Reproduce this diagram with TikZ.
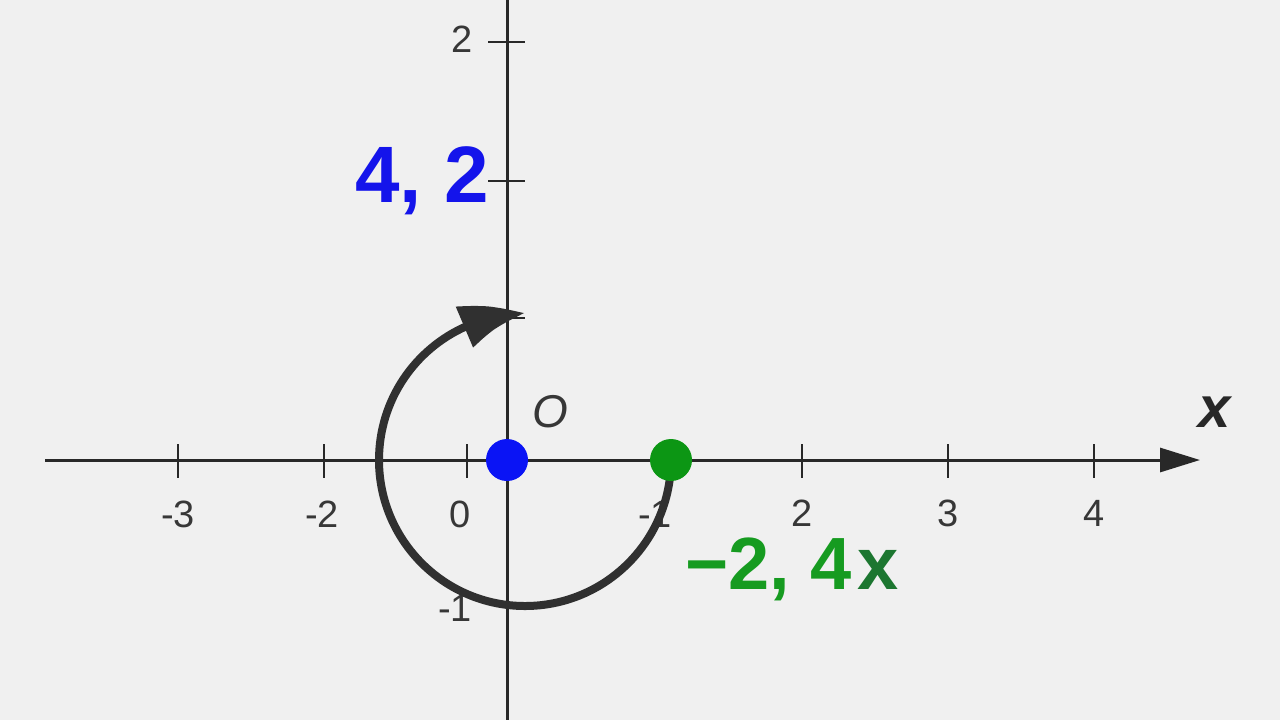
\documentclass[tikz,border=0pt]{standalone}
\usepackage{fontspec}
\setmainfont{Liberation Sans}
\usetikzlibrary{arrows.meta,bending}
\definecolor{bg}{RGB}{240,240,240}
\definecolor{axisc}{RGB}{40,40,40}
\definecolor{curvec}{RGB}{48,48,48}
\definecolor{dotblue}{RGB}{10,20,245}
\definecolor{txtblue}{RGB}{20,20,235}
\definecolor{dotgreen}{RGB}{12,150,20}
\definecolor{txtgreen}{RGB}{22,155,32}
\definecolor{xgreen}{RGB}{28,118,48}
\definecolor{labc}{RGB}{55,55,55}
\begin{document}
\begin{tikzpicture}[x=0.5pt,y=-0.5pt,
  axisline/.style={draw=axisc,line width=1.5pt},
  tickmark/.style={draw=axisc,line width=1.4pt},
  ticklab/.style={text=labc,font=\fontsize{19}{19}\selectfont,inner sep=0pt,anchor=base},
  dot/.style={circle,inner sep=0pt,minimum size=21pt},
  turn/.style={draw=curvec,line width=4pt,-{Triangle[length=32pt,width=21pt,bend]}},
  biglab/.style={inner sep=0pt,anchor=base,text height=0.72em,text depth=0.1em},
]
\fill[bg] (0,0) rectangle (1280,720);
\useasboundingbox (0,0) rectangle (1280,720);
% axes
\coordinate (xs) at (45,460);
\coordinate (xe) at (1200,460);
\coordinate (ys) at (507,0);
\coordinate (ye) at (507,720);
\draw[axisline,-{Triangle[length=20pt,width=12pt]}] (xs) -- (xe);
\draw[axisline] (ys) -- (ye);
% ticks
\foreach \x in {178,324,467,670,802,948,1094} \draw[tickmark] (\x,444) -- (\x,478);
\foreach \y in {42,181,318} \draw[tickmark] (488,\y) -- (525,\y);
% tick labels
\node[ticklab] (lm3) at (178,527) {-3};
\node[ticklab] (lm2) at (322,527) {-2};
\node[ticklab] (l0) at (460,527) {0};
\node[ticklab] (lm1) at (655,527) {-1};
\node[ticklab] (l2) at (802,526) {2};
\node[ticklab] (l3) at (948,526) {3};
\node[ticklab] (l4) at (1094,526) {4};
\node[ticklab] (ly2) at (462,52) {2};
\node[ticklab] (lym1) at (455,621) {-1};
% curve
\coordinate (gc) at (671,460);
\coordinate (oc) at (507,460);
\draw[turn] (gc) arc[start angle=0,end angle=270,radius=146];
% dots
\node[dot,fill=dotblue] (o) at (oc) {};
\node[dot,fill=dotgreen] (g) at (gc) {};
% labels
\node[biglab,text=txtblue,font=\fontsize{40}{40}\selectfont\bfseries] (lb) at (422,202) {4, 2};
\node[biglab,text=txtgreen,font=\fontsize{37}{37}\selectfont\bfseries] (lg) at (792,589) {−2, 4\hspace{0.08em}\textcolor{xgreen}{x}};
\node[biglab,text=labc,font=\fontsize{23}{23}\selectfont\itshape] (lo) at (550,427) {O};
\node[biglab,text=axisc,font=\fontsize{29}{29}\selectfont\bfseries\itshape] (lx) at (1215,427) {x};
\end{tikzpicture}
\end{document}
